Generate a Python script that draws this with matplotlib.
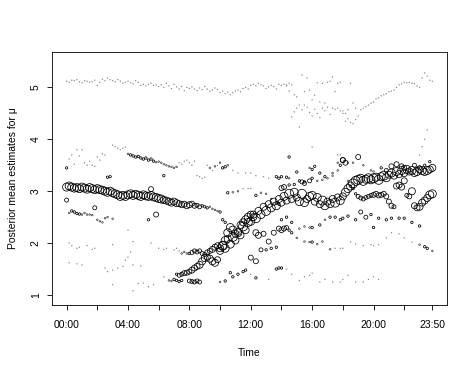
import numpy as np
import matplotlib
matplotlib.use("Agg")
import matplotlib.pyplot as plt

plt.rcParams['font.family'] = ['Liberation Sans', 'DejaVu Sans']

N = None
# 144 ten-minute steps, 00:00 .. 23:50
hours = np.arange(144) / 6.0

# posterior means per component (None = not shown), weights as size codes 1..9
top_vals = [5.12,5.10,5.14,5.13,5.15,5.11,5.09,5.13,5.12,5.10,5.11,5.14,
            5.04,5.10,5.16,5.13,5.18,5.15,5.13,5.11,5.15,5.12,5.08,5.10,
            5.12,5.09,5.07,5.13,5.10,5.04,5.06,5.03,5.06,5.08,5.04,5.05,
            5.02,5.05,5.00,5.08,5.03,4.98,5.06,5.01,4.97,5.02,4.94,5.00,
            4.98,5.01,4.97,4.94,4.99,4.96,5.02,4.97,4.93,4.95,4.99,4.96,
            4.90,4.93,4.88,4.91,4.86,4.90,4.93,4.95,4.92,4.98,5.00,4.97,
            5.04,5.06,5.03,5.08,5.05,5.03,4.98,5.01,5.04,5.02,4.97,5.06,
            5.04,5.06,5.03,4.93,4.43,4.53,4.60,4.24,4.57,4.66,4.62,4.52,
            4.45,4.58,4.50,4.42,4.60,4.55,4.62,4.48,4.60,4.58,4.60,4.55,
            4.50,4.35,4.40,4.33,4.30,4.38,4.45,4.57,4.60,4.63,4.66,4.70,
            4.72,4.78,4.80,4.84,4.86,4.88,4.92,4.93,4.95,5.00,5.05,5.07,
            5.10,5.09,5.10,5.08,5.07,5.03,5.00,5.18,5.28,5.22,5.14,5.12]
top_w = ("111111111111" "111111111111" "111111111111" "111111111111"
         "111111111111" "111111111111" "111111111111" "111111111111"
         "111111111111" "111111111111" "111111111111" "111111111111")

top2_vals = ([N] * 84 +
             [N,N,5.05,5.08,5.05,4.86,4.82,4.66,5.24,4.92,5.18,4.95,
              4.76,4.85,5.09,4.72,5.08,4.70,5.10,5.12,5.20,4.92,5.08,5.10,
              4.55,4.50,4.57,5.08,4.70,4.60,N,N,N,N,N,N] +
             [N] * 24)
top2_w = "1" * 144

c_vals = [3.45,3.62,3.70,3.52,3.80,3.68,3.80,3.55,3.50,3.58,3.50,3.48,
          3.66,3.60,3.72,3.70,3.27,3.28,3.89,3.86,3.83,3.80,3.83,3.85,
          3.72,3.70,3.68,3.66,3.67,3.64,3.62,3.64,3.60,3.62,3.58,3.56,
          3.57,3.55,3.52,3.50,3.48,3.47,3.45,3.47,3.55,3.52,3.58,3.60,
          3.55,3.50,3.58,3.30,3.28,3.25,3.27,3.50,3.45,3.40,3.48,3.50,
          3.55,3.45,3.47,3.50,3.45,3.40,3.38,3.35,3.36,3.33,3.35,3.32,
          3.35,3.33,3.30,3.36,3.33,3.28,3.30,3.25,3.26,3.22,3.28,3.25,
          3.28,3.30,3.27,3.25,3.30,3.35,3.37,3.33,3.18,3.15,3.16,3.45,
          3.42,3.48,3.25,3.35,3.30,3.28,3.25,3.22,3.30,3.35,3.40,3.50,
          3.60,3.58,3.55,3.52,3.55,3.60,3.66,3.55,3.50,3.45,3.42,3.40,
          3.38,3.40,3.42,3.45,3.43,3.40,3.45,3.48,3.50,3.52,3.50,3.48,
          3.45,3.37,3.40,3.55,3.50,3.48,3.45,3.42,3.50,3.55,3.57,3.55]
c_w = ("311111111111" "111133111111" "233333333332" "222222221111"
       "111111112121" "2332.1.1..1." "1.1..1.1..33" "3.32..3.44.2"
       "33.3.3..2.23" "5.2.2.5.2..2" "2..3.4.5.5.5" "5.3.4.4.3.3.")

a_vals = [3.08,3.10,3.08,3.06,3.07,3.05,3.08,3.06,3.04,3.07,3.05,3.03,
          3.05,3.03,3.02,3.00,2.98,3.00,2.97,2.95,2.93,2.90,2.92,2.90,
          2.93,2.95,2.92,2.94,2.92,2.90,2.93,2.91,2.90,2.92,2.89,2.88,
          2.86,2.85,2.83,2.82,2.80,2.78,2.80,2.77,2.76,2.74,2.75,2.72,
          2.74,2.76,2.72,2.73,2.70,2.72,2.70,2.68,2.70,2.66,2.64,2.62,
          2.60,2.45,2.40,2.97,2.95,2.98,3.00,3.00,3.02,3.05,3.03,3.05,
          3.05,2.90,2.92,2.95,2.97,3.00,2.95,2.90,2.85,2.80,2.77,2.75,
          3.06,3.08,3.10,3.12,3.15,3.13,3.18,3.20,3.15,3.18,3.25,3.20,
          3.25,3.22,3.20,3.18,3.22,3.20,3.25,3.30,3.35,3.45,3.55,3.70,
          3.60,3.55,3.20,3.10,3.05,2.95,2.90,2.87,2.85,2.88,2.90,2.92,
          2.93,2.95,2.92,2.93,2.95,2.90,2.80,2.72,2.70,3.10,3.12,3.08,
          3.20,2.92,2.90,3.00,2.72,2.68,2.70,2.78,2.82,2.87,2.93,2.95]
a_w = ("888888888888" "888888888888" "888888888888" "887777776666"
       "655443332222" "3333.2.2.1.1" "1.3.2.2.2.33" "55.3.3.3.3.4"
       "3.2.2.2.2.21" "552333444444" "555555554666" "645766777788")

b_vals = [N,1.62,N,N,1.60,N,1.58,N,N,N,N,N,
          N,N,N,1.52,1.45,N,1.48,N,1.52,N,1.55,N,
          1.73,N,1.58,N,N,1.56,N,N,N,N,N,N,
          N,N,N,N,N,N,N,1.40,1.38,1.40,1.42,1.43,
          1.45,1.48,1.52,1.55,1.58,1.65,1.71,1.73,1.70,1.65,1.62,1.68,
          1.85,1.95,1.90,2.08,1.98,2.12,2.05,2.20,2.15,2.32,2.25,2.40,
          2.42,2.55,2.48,2.62,2.55,2.70,2.62,2.75,2.68,2.80,2.72,2.85,
          2.78,2.90,2.82,2.95,2.85,2.98,2.88,2.80,2.95,2.78,2.85,2.90,
          2.92,2.80,2.88,2.75,2.82,2.72,2.80,2.76,2.85,2.78,2.88,2.82,
          2.90,2.98,3.05,3.10,3.15,3.20,3.22,3.25,3.20,3.23,3.25,3.22,
          3.25,3.27,3.22,3.28,3.30,3.26,3.32,3.35,3.30,3.38,3.33,3.40,
          3.35,3.42,3.38,3.40,3.35,3.38,3.42,3.40,3.37,3.40,3.42,3.45]
b_w = (".1..1.1....." "...11.1.1.1." "1.1..1......" ".......34455"
       "566677767776" "798789787978" "879787978787" "787978789878"
       "878798787978" "788899989898" "989898787878" "787878787877")

d_vals = [2.83,2.58,2.62,2.60,2.57,2.56,2.55,2.58,2.55,2.55,2.54,2.68,
          2.45,2.42,2.40,2.48,2.50,N,2.47,N,N,N,N,N,
          N,N,N,N,N,N,N,N,2.45,N,N,2.55,
          N,N,N,N,N,N,N,N,N,N,N,N,
          N,N,N,N,N,N,N,N,N,N,N,N,
          N,N,N,N,N,N,N,N,N,N,N,N,
          1.72,1.74,1.65,1.62,1.87,1.87,1.87,1.85,1.90,1.93,1.92,2.00,
          2.45,2.45,2.50,2.48,2.40,2.35,2.30,2.28,2.30,2.32,2.30,2.30,
          2.30,2.28,2.32,2.35,2.38,2.45,2.54,2.50,2.48,2.50,2.48,2.45,
          2.48,2.50,2.52,2.48,2.50,2.45,2.55,2.60,2.58,2.50,2.52,2.55,
          2.30,2.50,2.48,2.52,2.40,2.45,2.50,2.48,2.40,2.45,2.48,2.50,
          2.48,2.45,2.45,2.40,2.38,2.35,2.33,2.35,N,N,N,N]
d_w = ("423333222224" "22222.2....." "........3..5" "............"
       "............" "............" "5.5.4.3.3.3." "3.3.3..2.2.2"
       "3..3.2.3.3.3" "3.3..3.4.4.3" "3.3..3.3..3." "3..3..3.....")

e_vals = [N,2.00,1.95,N,1.90,1.92,N,N,1.95,N,1.88,1.90,
          N,N,N,N,N,N,1.97,N,N,N,N,1.67,
          2.25,1.83,2.03,N,N,N,N,N,N,2.00,N,N,
          1.90,N,1.88,1.90,N,N,1.87,1.90,1.85,1.80,1.83,1.80,
          1.80,1.82,1.85,1.83,1.85,1.80,1.78,1.82,1.85,1.88,1.92,1.95,
          1.90,1.95,2.05,2.20,2.30,2.25,2.18,2.22,2.35,2.40,2.45,2.50,
          2.55,2.50,2.20,2.15,2.12,2.18,2.05,2.03,2.10,2.20,2.25,2.28,
          2.25,2.28,2.30,2.25,2.20,2.15,2.10,2.08,2.05,2.03,2.00,2.02,
          2.02,2.00,1.98,2.00,2.03,1.97,1.92,1.88,1.87,1.90,1.92,1.90,
          1.90,1.95,2.00,2.02,2.00,1.98,2.00,1.97,1.95,1.93,1.95,1.97,
          1.95,2.00,1.97,2.00,2.05,2.10,2.15,2.20,2.22,2.20,2.18,2.15,
          2.10,2.05,2.00,2.02,1.98,2.00,1.97,2.00,1.93,1.90,1.88,1.85]
e_w = (".11.11..1.11" "......1....1" "111......1.." "1.11..111222"
       "344444455666" "788888777788" "7766.5.5.5.5" "55433.2..2.2"
       "3.2.2..2.1.1" "1..1.1..1..1" "1.1..1.1..1." "1..1..2.33.2")

g_vals = [N,N,N,N,N,N,N,N,N,N,N,N,
          N,N,N,N,N,N,1.20,N,N,N,N,N,
          N,N,1.08,N,1.22,N,1.23,N,1.16,N,1.20,N,
          N,N,1.35,N,1.28,1.27,1.30,1.28,1.26,1.28,N,N,
          1.27,1.26,1.25,1.27,1.25,N,N,N,N,N,N,N,
          1.25,1.25,1.27,1.30,1.43,1.35,1.37,1.40,1.50,1.45,1.48,N,
          1.40,1.35,1.33,1.35,N,N,N,1.30,N,1.45,1.50,1.52,
          1.52,1.54,1.50,1.45,1.40,1.35,1.30,1.28,1.30,1.35,1.40,1.38,
          1.42,1.40,1.35,1.25,1.28,1.30,1.25,1.22,1.25,1.20,1.22,1.25,
          1.30,1.40,1.38,1.35,1.30,1.25,1.20,1.22,1.25,1.27,1.30,1.32,
          1.35,1.25,1.30,1.32,N,N,N,N,N,N,N,N,
          N,N,N,N,N,N,N,N,N,N,N,N]
g_w = ("............" "......1....." "..1.1.1.1.1." "..1.223333.."
       "44444......." "2.3.33.3.33." "1.3....1..33" "3.1.1..1.1.1"
       "1..1.1..1..1" "1.1..1..1.1." "1.1........." "............")

# scattered single estimates
h_vals = ([N] * 33 + [3.04] + [N] * 4 + [3.30] + [N] * 48 + [3.66] + [N] * 8
          + [3.85] + [N] * 9 + [3.70] + [N] * 31 + [3.70, 3.86, 4.00, 4.18] + [N] * 2)
h_w = "5" * 34 + "3" * 54 + "1" * 56

components = [(top_vals, top_w), (top2_vals, top2_w), (c_vals, c_w),
              (a_vals, a_w), (b_vals, b_w), (d_vals, d_w),
              (e_vals, e_w), (g_vals, g_w), (h_vals, h_w)]

xtick_pos = [0, 2, 4, 6, 8, 10, 12, 14, 16, 18, 20, 22, 23 + 50 / 60]
xtick_lab = ['00:00', '', '04:00', '', '08:00', '', '12:00', '', '16:00', '',
             '20:00', '', '23:50']

# marker diameter (px), edge width (pt), edge grey for each weight code
size_px = {'1': 0.8, '2': 1.6, '3': 2.4, '4': 4.0, '5': 5.0,
           '6': 6.0, '7': 7.0, '8': 8.0, '9': 9.0}
edge_lw = {'1': 0.4, '2': 0.5, '3': 0.55}
edge_col = {'1': '0.5', '2': '0.25'}

xs, ys, ss, lws, cols = [], [], [], [], []
for vals, w in components:
    assert len(vals) == 144 and len(w) == 144
    for i in range(144):
        if vals[i] is None or w[i] == '.':
            continue
        xs.append(hours[i])
        ys.append(vals[i])
        ss.append((size_px[w[i]] * 0.72) ** 2)
        lws.append(edge_lw.get(w[i], 0.55))
        cols.append(edge_col.get(w[i], 'black'))

fig = plt.figure(figsize=(4.74, 3.70), dpi=100)
ax = fig.add_axes([0.1097, 0.1757, 0.8333, 0.6838])
ax.scatter(xs, ys, s=ss, facecolors='none', edgecolors=cols, linewidths=lws)

ax.set_xlim(-0.953, 24.787)
ax.set_ylim(0.807, 5.684)
ax.set_xticks(xtick_pos)
ax.set_xticklabels(xtick_lab)
ax.set_yticks([1, 2, 3, 4, 5])
ax.set_yticklabels(['1', '2', '3', '4', '5'], rotation=90, va='center')
ax.tick_params(direction='out', length=3.6, width=0.6, labelsize=7.5, colors='black')
ax.tick_params(axis='x', pad=7)
ax.tick_params(axis='y', pad=4.5)
for sp in ax.spines.values():
    sp.set_linewidth(0.6)

ax.set_xlabel('Time', fontsize=7.5)
ax.set_ylabel('Posterior mean estimates for μ', fontsize=7.5)
ax.xaxis.set_label_coords(0.5, -0.17)
ax.yaxis.set_label_coords(-0.086, 0.5)

fig.savefig('out.png', dpi=100)
